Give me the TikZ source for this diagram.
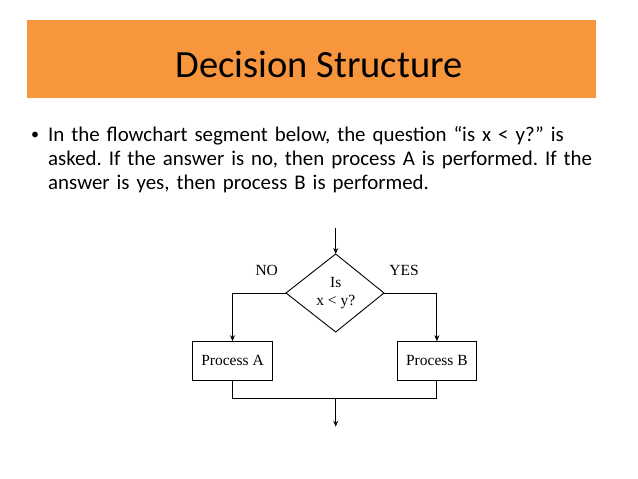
\documentclass[tikz,border=0pt]{standalone}
\usepackage{fontspec}
\setmainfont{Liberation Serif}
\newfontfamily\calib{Carlito}
\usetikzlibrary{arrows.meta,shapes.geometric}
\definecolor{bannerorange}{RGB}{247,150,60}
\begin{document}
\frenchspacing
\begin{tikzpicture}[x=1pt,y=-1pt,
  flow/.style={draw=black,line width=0.9pt},
  arr/.style={flow,-{Stealth[length=6pt,width=5pt]}},
  procbox/.style={draw=black,line width=0.9pt,minimum width=79.6pt,minimum height=38.3pt,inner sep=0pt,font=\fontsize{15.5}{17}\selectfont},
  lbl/.style={font=\fontsize{15.5}{17}\selectfont,inner sep=0pt}]
\useasboundingbox[fill=white] (0,0) rectangle (638,479);
\fill[bannerorange] (27,20) rectangle (596,98);
\node[font=\calib\fontsize{38.5}{40}\selectfont,inner sep=0pt] (title) at (319,64) {Decision Structure};
\node[font=\calib\fontsize{16}{24}\selectfont,inner sep=0pt,anchor=base west] (bullet) at (31,139) {\textbullet};
\node[font=\calib\fontsize{20.9}{24}\selectfont\frenchspacing,inner sep=0pt,anchor=base west,align=left,text width=580pt] (body) at (48,141) {In the flowchart segment below, the question “is x < y?” is\\asked. If the answer is no, then process A is performed. If the\\answer is yes, then process B is performed.};
% flowchart
\coordinate (start) at (335.7,227.7);
\coordinate (dt) at (335.7,254);
\coordinate (dl) at (286,293);
\coordinate (dr) at (384,293);
\coordinate (db) at (335.7,332);
\draw[flow] (dt) -- (dr) -- (db) -- (dl) -- cycle;
\draw[arr] (start) -- (dt);
\node[procbox] (pa) at (232.5,360.8) {Process A};
\node[procbox] (pb) at (436.9,360.8) {Process B};
\draw[arr] (dl) -| (pa.north);
\draw[arr] (dr) -| (pb.north);
\coordinate (join) at (335.7,398.3);
\coordinate (end) at (335.7,426.7);
\draw[flow] (pa.south) |- (join) -| (pb.south);
\draw[arr] (join) -- (end);
\node[lbl] (no) at (266.7,270) {NO};
\node[lbl] (yes) at (404,270) {YES};
\node[lbl] (is) at (335.7,282) {Is};
\node[lbl] (q) at (335.7,302) {x < y?};
\end{tikzpicture}
\end{document}
